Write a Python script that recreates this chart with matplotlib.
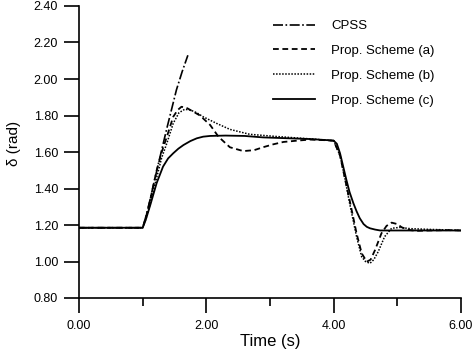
import matplotlib
matplotlib.use("Agg")
import matplotlib.pyplot as plt
from matplotlib.ticker import MultipleLocator

plt.rcParams['font.family'] = ['Liberation Sans', 'DejaVu Sans']

# ---- data ----
cpss_t = [0.0, 1.0, 1.07, 1.14, 1.25, 1.38, 1.53, 1.62, 1.71]
cpss_d = [1.185, 1.185, 1.27, 1.375, 1.54, 1.73, 1.94, 2.04, 2.13]

a_t = [0.0, 1.0, 1.05, 1.12, 1.22, 1.30, 1.38, 1.48, 1.55, 1.61, 1.70, 1.80, 1.90, 2.06, 2.19,
       2.37, 2.58, 2.75, 2.89, 3.05, 3.21, 3.45, 3.63, 3.85, 4.0,
       4.10, 4.18, 4.25, 4.36, 4.44, 4.52, 4.58, 4.65, 4.75, 4.83, 4.91, 5.00, 5.07, 5.20,
       5.30, 5.50, 5.80, 6.0]
a_d = [1.185, 1.185, 1.24, 1.34, 1.50, 1.60, 1.684, 1.793, 1.83, 1.848, 1.84, 1.82, 1.80, 1.748, 1.684,
       1.626, 1.605, 1.61, 1.626, 1.642, 1.655, 1.663, 1.668, 1.665, 1.662,
       1.58, 1.45, 1.337, 1.154, 1.045, 0.999, 1.01, 1.063, 1.154, 1.195, 1.213, 1.205, 1.187, 1.172,
       1.168, 1.17, 1.172, 1.17]

b_t = [0.0, 1.0, 1.05, 1.12, 1.22, 1.30, 1.38, 1.48, 1.57, 1.66, 1.75, 1.85, 1.95, 2.16,
       2.37, 2.68, 3.10, 3.63, 4.0,
       4.10, 4.18, 4.25, 4.36, 4.44, 4.50, 4.57, 4.63, 4.70, 4.80, 4.91, 5.04, 5.20,
       5.50, 5.80, 6.0]
b_d = [1.185, 1.185, 1.23, 1.32, 1.46, 1.57, 1.648, 1.757, 1.815, 1.834, 1.83, 1.815, 1.793, 1.757,
       1.724, 1.697, 1.685, 1.672, 1.662,
       1.58, 1.45, 1.32, 1.136, 1.026, 1.0, 0.99, 1.01, 1.054, 1.136, 1.182, 1.187, 1.18,
       1.176, 1.173, 1.17]

c_t = [0.0, 1.0, 1.05, 1.12, 1.22, 1.32, 1.40, 1.48, 1.56, 1.64, 1.75, 1.85, 1.95, 2.06,
       2.30, 2.60, 2.89, 3.30, 3.63, 3.90, 4.0,
       4.05, 4.10, 4.15, 4.20, 4.25, 4.31, 4.36, 4.41, 4.47, 4.52, 4.57, 4.65, 4.73, 5.0, 6.0]
c_d = [1.185, 1.185, 1.23, 1.31, 1.43, 1.52, 1.565, 1.593, 1.618, 1.638, 1.66, 1.675, 1.684, 1.688,
       1.69, 1.688, 1.68, 1.675, 1.671, 1.665, 1.662,
       1.645, 1.593, 1.52, 1.447, 1.38, 1.319, 1.275, 1.237, 1.205, 1.19, 1.182, 1.175, 1.17, 1.17, 1.17]

labels = ['CPSS', 'Prop. Scheme (a)', 'Prop. Scheme (b)', 'Prop. Scheme (c)']
xticks = [0, 2, 4, 6]
xtick_labels = ['0.00', '2.00', '4.00', '6.00']
yticks = [0.8, 1.0, 1.2, 1.4, 1.6, 1.8, 2.0, 2.2, 2.4]
ytick_labels = ['0.80', '1.00', '1.20', '1.40', '1.60', '1.80', '2.00', '2.20', '2.40']

# ---- figure ----
fig = plt.figure(figsize=(4.74, 3.51), dpi=100)
ax = fig.add_axes([79/474, 1 - 298/351, (461 - 79)/474, (298 - 6)/351])

ax.plot(cpss_t, cpss_d, color='black', lw=1.2, dashes=(6, 1.5, 1, 1.5), label=labels[0])
ax.plot(a_t, a_d, color='black', lw=1.3, dashes=(3.2, 2.0), label=labels[1])
ax.plot(b_t, b_d, color='black', lw=1.1, dashes=(1.0, 1.0), label=labels[2])
ax.plot(c_t, c_d, color='black', lw=1.3, label=labels[3])

ax.set_xlim(0, 6)
ax.set_ylim(0.8, 2.4)
ax.set_xticks(xticks)
ax.set_xticklabels(xtick_labels)
ax.xaxis.set_minor_locator(MultipleLocator(1))
ax.set_yticks(yticks)
ax.set_yticklabels(ytick_labels)

for s in ['top', 'right']:
    ax.spines[s].set_visible(False)
for s in ['left', 'bottom']:
    ax.spines[s].set_linewidth(1.2)

ax.tick_params(axis='both', which='major', direction='out', length=11, width=1.2,
               labelsize=9, pad=4)
ax.tick_params(axis='x', which='minor', direction='out', length=6, width=1.2)
ax.tick_params(axis='x', which='major', pad=5)

ax.set_xlabel('Time (s)', fontsize=12, labelpad=1)
ax.set_ylabel('δ (rad)', fontsize=11)
ax.yaxis.set_label_coords(-0.152, 0.53)

leg = ax.legend(loc='upper left', bbox_to_anchor=(0.508, 0.952), frameon=False,
                fontsize=9.5, handlelength=3.2, handletextpad=1.2, labelspacing=0.95,
                borderaxespad=0.0, borderpad=0.0)

fig.savefig('out.png', dpi=100)
